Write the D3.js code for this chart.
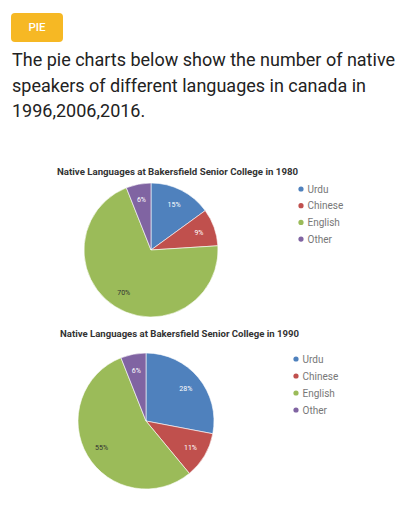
<!DOCTYPE html>
<html>
<head>
<meta charset="utf-8">
<script src="https://cdn.jsdelivr.net/npm/d3@7"></script>
<style>
html,body{margin:0;padding:0;background:#fff;}
svg{display:block;}
</style>
</head>
<body>
<svg id="chart" width="417" height="512"></svg>
<script>
const categories = ["Urdu", "Chinese", "English", "Other"];
const values1980 = [15, 9, 70, 6];
const values1990 = [28, 11, 55, 6];
const titles = ["Native Languages at Bakersfield Senior College in 1980", "Native Languages at Bakersfield Senior College in 1990"];
const headerLines = ["The pie charts below show the number of native", "speakers of different languages in canada in", "1996,2006,2016."];
const badgeText = "PIE";

const colors = d3.scaleOrdinal().domain(categories).range(["#4f81bd", "#c0504d", "#9bbb59", "#8064a2"]);
const labelColors = {"Urdu": "#fff", "Chinese": "#fff", "English": "#333", "Other": "#fff"};

const svg = d3.select("#chart");

// Badge
svg.append("rect").attr("x", 11).attr("y", 13).attr("width", 52).attr("height", 29).attr("rx", 4)
  .attr("fill", "#f6b824");
svg.append("text").attr("x", 37).attr("y", 31).attr("text-anchor", "middle")
  .attr("font-family", "Roboto, sans-serif").attr("font-size", 11.5).attr("font-weight", 500)
  .attr("fill", "#fff").text(badgeText);

// Header text
svg.append("g").selectAll("text").data(headerLines).join("text")
  .attr("x", 12).attr("y", (d, i) => 66 + i * 25.7)
  .attr("font-family", "Roboto, sans-serif").attr("font-size", 18)
  .attr("fill", "#222").text(d => d);

function drawPie(values, title, cx, cy, r, titleX, titleY, titleW, legX, legY, legStep) {
  const g = svg.append("g");
  g.append("text").attr("x", titleX).attr("y", titleY)
    .attr("font-family", "Roboto, sans-serif").attr("font-size", 9.4).attr("font-weight", 700)
    .attr("textLength", titleW).attr("lengthAdjust", "spacingAndGlyphs")
    .attr("fill", "#333").text(title);
  const data = categories.map((c, i) => ({cat: c, value: values[i]}));
  const pie = d3.pie().value(d => d.value).sort(null);
  const arcs = pie(data);
  const arc = d3.arc().innerRadius(0).outerRadius(r);
  const labelArc = d3.arc().innerRadius(r * 0.76).outerRadius(r * 0.76);
  const pg = g.append("g").attr("transform", `translate(${cx},${cy})`);
  pg.selectAll("path").data(arcs).join("path")
    .attr("d", arc).attr("fill", d => colors(d.data.cat))
    .attr("stroke", "#fff").attr("stroke-width", 0.6);
  pg.selectAll("text").data(arcs).join("text")
    .attr("transform", d => `translate(${labelArc.centroid(d)})`)
    .attr("text-anchor", "middle").attr("dy", "0.35em")
    .attr("font-family", "Roboto, sans-serif").attr("font-size", 7)
    .attr("fill", d => labelColors[d.data.cat])
    .text(d => d.data.value + "%");
  const lg = g.append("g");
  const items = lg.selectAll("g").data(categories).join("g")
    .attr("transform", (d, i) => `translate(${legX},${legY + i * legStep})`);
  items.append("circle").attr("r", 2.6).attr("fill", d => colors(d));
  items.append("text").attr("x", 6.5).attr("dy", "0.35em")
    .attr("font-family", "Roboto, sans-serif").attr("font-size", 10)
    .attr("fill", "#777").text(d => d);
}

drawPie(values1980, titles[0], 151, 250, 67, 57, 175, 241, 301, 189, 16.7);
drawPie(values1990, titles[1], 146, 421, 68, 60, 337, 239, 296, 359, 17);
</script>
</body>
</html>
